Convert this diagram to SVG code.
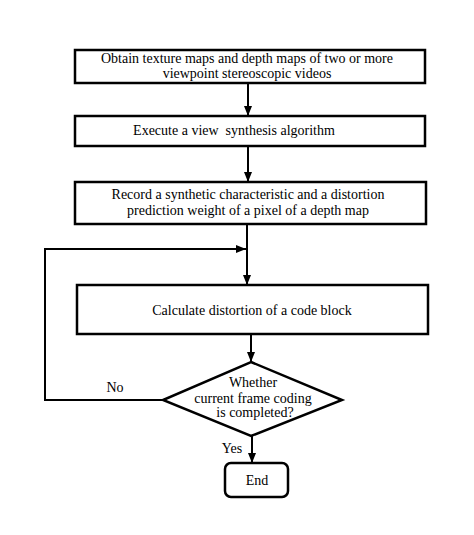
<svg xmlns="http://www.w3.org/2000/svg" width="474" height="535" viewBox="0 0 474 535">
<defs>
<style>
.box{fill:#fff;stroke:#000;stroke-width:2.5}
.ln{fill:none;stroke:#000;stroke-width:2}
text{font-family:"Liberation Serif","Times New Roman",serif;font-size:14px;fill:#000;text-anchor:middle}
</style>
<marker id="ah" viewBox="0 0 10 8" refX="10" refY="4" markerWidth="10" markerHeight="8" markerUnits="userSpaceOnUse" orient="auto">
<path d="M0,0 L10,4 L0,8 Z" fill="#000"/>
</marker>
</defs>
<rect width="474" height="535" fill="#fff"/>
<g id="connectors">
<line class="ln" x1="248" y1="83" x2="248" y2="116" marker-end="url(#ah)"/>
<line class="ln" x1="248" y1="146" x2="248" y2="182" marker-end="url(#ah)"/>
<line class="ln" x1="247" y1="224" x2="247" y2="285" marker-end="url(#ah)"/>
<line class="ln" x1="251" y1="334" x2="251" y2="362" marker-end="url(#ah)"/>
<line class="ln" x1="252" y1="436" x2="252" y2="463" marker-end="url(#ah)"/>
<polyline class="ln" points="163,400 45,400 45,249 246,249" marker-end="url(#ah)"/>
<text x="115" y="392">No</text>
<text x="232" y="453">Yes</text>
</g>
<g id="n1">
<rect class="box" x="75" y="50" width="350" height="33"/>
<text x="247" y="63">Obtain texture maps and depth maps of two or more</text>
<text x="247" y="78">viewpoint stereoscopic videos</text>
</g>
<g id="n2">
<rect class="box" x="75" y="116" width="350" height="30"/>
<text x="234" y="135" xml:space="preserve">Execute a view  synthesis algorithm</text>
</g>
<g id="n3">
<rect class="box" x="75" y="182" width="351" height="42"/>
<text x="248" y="199">Record a synthetic characteristic and a distortion</text>
<text x="248" y="215">prediction weight of a pixel of a depth map</text>
</g>
<g id="n4">
<rect class="box" x="77" y="285" width="351" height="49"/>
<text x="252" y="315">Calculate distortion of a code block</text>
</g>
<g id="n5">
<polygon class="box" points="251,362 342,400 251,436 163,400"/>
<text x="253" y="387">Whether</text>
<text x="253" y="403">current frame coding</text>
<text x="255" y="417">is completed?</text>
</g>
<g id="n6">
<rect class="box" x="225" y="463" width="63" height="34" rx="6"/>
<text x="257" y="485">End</text>
</g>
</svg>
